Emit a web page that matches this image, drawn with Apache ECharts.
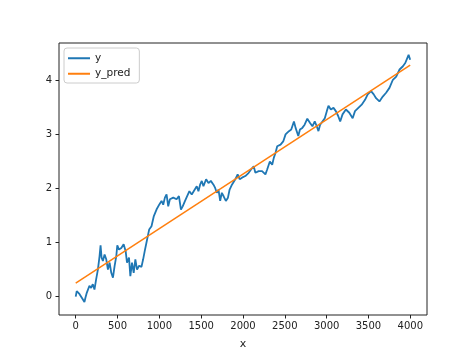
<!DOCTYPE html>
<html>
<head>
<meta charset="utf-8">
<script src="https://cdn.jsdelivr.net/npm/echarts@6/dist/echarts.min.js"></script>
<style>
    html, body {margin: 0; padding: 0; background: #fff;}
    #main {width: 474px; height: 355px;}
</style>
</head>
<body>
<div id="main"></div>
<script>
'use strict';

const xs = [0, 12, 24, 44, 64, 84, 104, 116, 132, 148, 164, 184, 204, 224, 244, 265, 285, 297, 309, 325,
    345, 365, 385, 405, 425, 445, 465, 485, 497, 517, 545, 573, 597, 613, 637, 653, 673, 693, 713, 733,
    758, 786, 806, 826, 846, 866, 878, 906, 934, 966, 998, 1026, 1046, 1066, 1086, 1106, 1126, 1166, 1206, 1234,
    1258, 1279, 1307, 1327, 1359, 1387, 1407, 1447, 1467, 1487, 1507, 1527, 1559, 1587, 1615, 1647, 1667, 1687, 1707, 1727,
    1747, 1767, 1795, 1820, 1840, 1868, 1908, 1936, 1960, 1988, 2028, 2068, 2096, 2128, 2148, 2188, 2228, 2268, 2289, 2321,
    2349, 2369, 2389, 2409, 2449, 2481, 2509, 2549, 2577, 2609, 2629, 2661, 2681, 2709, 2737, 2769, 2802, 2830, 2858, 2882,
    2902, 2922, 2950, 2978, 3002, 3022, 3050, 3082, 3110, 3138, 3162, 3190, 3230, 3271, 3311, 3339, 3379, 3419, 3459, 3491,
    3531, 3563, 3591, 3631, 3671, 3711, 3751, 3792, 3832, 3872, 3912, 3940, 3964, 3980, 3999];
const ys = [0.00, 0.10, 0.13, 0.05, 0.08, -0.05, -0.10, -0.02, 0.07, 0.05, 0.20, 0.16, 0.23, 0.13, 0.32, 0.50, 0.75, 0.95, 0.72, 0.66,
    0.78, 0.69, 0.50, 0.63, 0.44, 0.35, 0.57, 0.75, 0.95, 0.87, 0.90, 0.97, 0.84, 0.63, 0.72, 0.38, 0.63, 0.44, 0.69, 0.50,
    0.57, 0.55, 0.69, 0.85, 1.00, 1.15, 1.24, 1.30, 1.49, 1.61, 1.70, 1.77, 1.70, 1.83, 1.89, 1.67, 1.80, 1.83, 1.80, 1.86,
    1.61, 1.67, 1.77, 1.74, 1.95, 1.89, 1.92, 2.04, 1.95, 2.07, 2.14, 2.04, 2.17, 2.10, 2.14, 2.07, 2.01, 1.92, 1.98, 1.77,
    1.92, 1.86, 1.77, 1.83, 1.98, 2.07, 2.17, 2.26, 2.17, 2.20, 2.23, 2.29, 2.35, 2.41, 2.29, 2.32, 2.32, 2.26, 2.35, 2.50,
    2.44, 2.57, 2.66, 2.78, 2.81, 2.87, 3.00, 3.06, 3.09, 3.24, 3.12, 2.97, 3.09, 3.12, 3.18, 3.29, 3.21, 3.15, 3.24, 3.15,
    3.06, 3.18, 3.24, 3.30, 3.43, 3.53, 3.46, 3.49, 3.43, 3.34, 3.24, 3.37, 3.46, 3.40, 3.30, 3.43, 3.49, 3.55, 3.64, 3.74,
    3.80, 3.74, 3.67, 3.61, 3.70, 3.77, 3.86, 4.01, 4.07, 4.20, 4.26, 4.32, 4.41, 4.47, 4.38];

// y_pred (fitted line)
const predX = [0, 3999];
const predY = [0.25, 4.28];

// tick labels
const xTicks = [0, 500, 1000, 1500, 2000, 2500, 3000, 3500, 4000];
const yTicks = [0, 1, 2, 3, 4];

const font = 'DejaVu Sans';
const zip = (a, b) => a.map((v, i) => [v, b[i]]);

let myChart = echarts.init(document.getElementById('main'));
myChart.setOption({
    animation: false,
    backgroundColor: '#fff',
    textStyle: {fontFamily: font},
    grid: {
        left: 59, right: 47, top: 43, bottom: 39,
        show: true, borderColor: '#222', borderWidth: 1
    },
    legend: {
        orient: 'vertical',
        left: 64, top: 48,
        padding: [4, 9, 3, 4],
        itemGap: 3,
        itemWidth: 22,
        itemHeight: 2,
        borderColor: '#ccc',
        borderWidth: 1,
        borderRadius: 3,
        textStyle: {fontFamily: font, fontSize: 10.5, color: '#222', lineHeight: 12.5},
        data: [
            {name: 'y', icon: 'rect'},
            {name: 'y_pred', icon: 'rect'}
        ]
    },
    xAxis: {
        type: 'value',
        min: -200, max: 4200,
        name: 'x',
        nameLocation: 'middle',
        nameGap: 24,
        nameTextStyle: {fontFamily: font, fontSize: 11, color: '#222'},
        axisLine: {show: false, onZero: false},
        axisTick: {show: true, length: 3.5, customValues: xTicks, lineStyle: {color: '#222'}},
        axisLabel: {
            customValues: xTicks, margin: 6, fontFamily: font, fontSize: 10, color: '#222',
            formatter: v => String(v)
        },
        splitLine: {show: false}
    },
    yAxis: {
        type: 'value',
        min: -0.34, max: 4.69,
        axisLine: {show: false, onZero: false},
        axisTick: {show: true, length: 3.5, customValues: yTicks, lineStyle: {color: '#222'}},
        axisLabel: {
            customValues: yTicks, margin: 7, fontFamily: font, fontSize: 10, color: '#222',
            formatter: v => String(v)
        },
        splitLine: {show: false}
    },
    series: [{
        name: 'y',
        type: 'line',
        showSymbol: false,
        color: '#1f77b4',
        lineStyle: {width: 1.8, color: '#1f77b4'},
        data: zip(xs, ys)
    }, {
        name: 'y_pred',
        type: 'line',
        showSymbol: false,
        color: '#ff7f0e',
        lineStyle: {width: 1.5, color: '#ff7f0e'},
        data: zip(predX, predY)
    }]
});
</script>
</body>
</html>
